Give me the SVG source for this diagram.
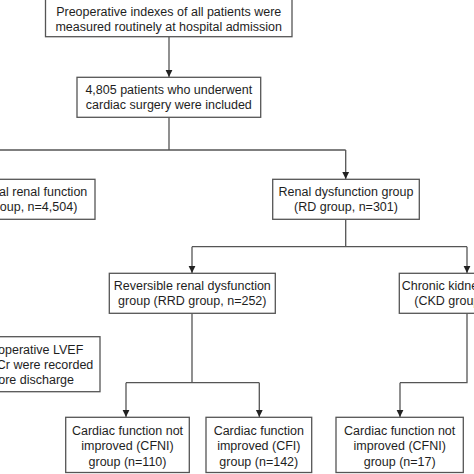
<svg xmlns="http://www.w3.org/2000/svg" width="474" height="474" viewBox="0 0 474 474">
<defs>
<marker id="arr" markerUnits="userSpaceOnUse" markerWidth="8" markerHeight="8" viewBox="0 0 8 8" refX="7" refY="4" orient="auto">
<path d="M0,0.6 L7,4 L0,7.4 Z" fill="#222"/>
</marker>
<style>
rect{fill:#fff;stroke:#555;stroke-width:1.3}
text{font-family:"Liberation Sans",Arial,sans-serif;font-size:12.5px;fill:#1e1e1e}
.c{text-anchor:middle}
.e{text-anchor:end}
#connectors path{fill:none;stroke:#555;stroke-width:1.3}
</style>
</defs>
<rect x="0" y="0" width="474" height="474" style="fill:#fff;stroke:none"/>
<g id="connectors">
<path d="M169,36.7 V77" marker-end="url(#arr)"/>
<path d="M169,117.3 V150 M-5,150 H345.7"/>
<path d="M345.7,150 V179" marker-end="url(#arr)"/>
<path d="M345.7,219.3 V246.7 M192,246.7 H467"/>
<path d="M192,246.7 V273" marker-end="url(#arr)"/>
<path d="M467,246.7 V273" marker-end="url(#arr)"/>
<path d="M192,313.3 V382.7 M126,382.7 H259.3"/>
<path d="M126,382.7 V417" marker-end="url(#arr)"/>
<path d="M259.3,382.7 V417" marker-end="url(#arr)"/>
<path d="M467,313.3 V382.7 H400"/>
<path d="M400,382.7 V417" marker-end="url(#arr)"/>
</g>
<g id="node-top">
<rect x="45.5" y="-5" width="246.5" height="41.7"/>
<text class="c" x="168.7" y="16.1">Preoperative indexes of all patients were</text>
<text class="c" x="168.7" y="31.1">measured routinely at hospital admission</text>
</g>
<g id="node-included">
<rect x="77" y="77.3" width="183.7" height="40"/>
<text class="c" x="168.8" y="94.2">4,805 patients who underwent</text>
<text class="c" x="168.8" y="109.2">cardiac surgery were included</text>
</g>
<g id="node-nrf">
<rect x="-5" y="179.3" width="100" height="40"/>
<text class="e" x="87.3" y="196.4">al renal function</text>
<text class="e" x="77.3" y="211.4">oup, n=4,504)</text>
</g>
<g id="node-rd">
<rect x="272.7" y="179.3" width="146.6" height="40"/>
<text class="c" x="346" y="196.4">Renal dysfunction group</text>
<text class="c" x="346" y="211.4">(RD group, n=301)</text>
</g>
<g id="node-rrd">
<rect x="109.3" y="273.3" width="166" height="40"/>
<text class="c" x="192.3" y="290.4">Reversible renal dysfunction</text>
<text class="c" x="192.3" y="305.4">group (RRD group, n=252)</text>
</g>
<g id="node-ckd">
<rect x="399.3" y="273.3" width="90" height="40"/>
<text x="401.7" y="290.4">Chronic kidney</text>
<text x="414.3" y="305.4">(CKD group</text>
</g>
<g id="node-note">
<rect x="-5" y="336.7" width="105" height="55"/>
<text class="e" x="83.3" y="353.7">operative LVEF</text>
<text class="e" x="93.3" y="368.7">Cr were recorded</text>
<text class="e" x="74" y="384">ore discharge</text>
</g>
<g id="node-cfni1">
<rect x="65.7" y="417.3" width="123.6" height="55.2"/>
<text class="c" x="127.5" y="435">Cardiac function not</text>
<text class="c" x="127.5" y="450.4">improved (CFNI)</text>
<text class="c" x="127.5" y="465.8">group (n=110)</text>
</g>
<g id="node-cfi">
<rect x="206" y="417.3" width="105.7" height="55.2"/>
<text class="c" x="258.8" y="435">Cardiac function</text>
<text class="c" x="258.8" y="450.4">improved (CFI)</text>
<text class="c" x="258.8" y="465.8">group (n=142)</text>
</g>
<g id="node-cfni2">
<rect x="336" y="417.3" width="127.3" height="55.2"/>
<text class="c" x="399.7" y="435">Cardiac function not</text>
<text class="c" x="399.7" y="450.4">improved (CFNI)</text>
<text class="c" x="399.7" y="465.8">group (n=17)</text>
</g>
</svg>
